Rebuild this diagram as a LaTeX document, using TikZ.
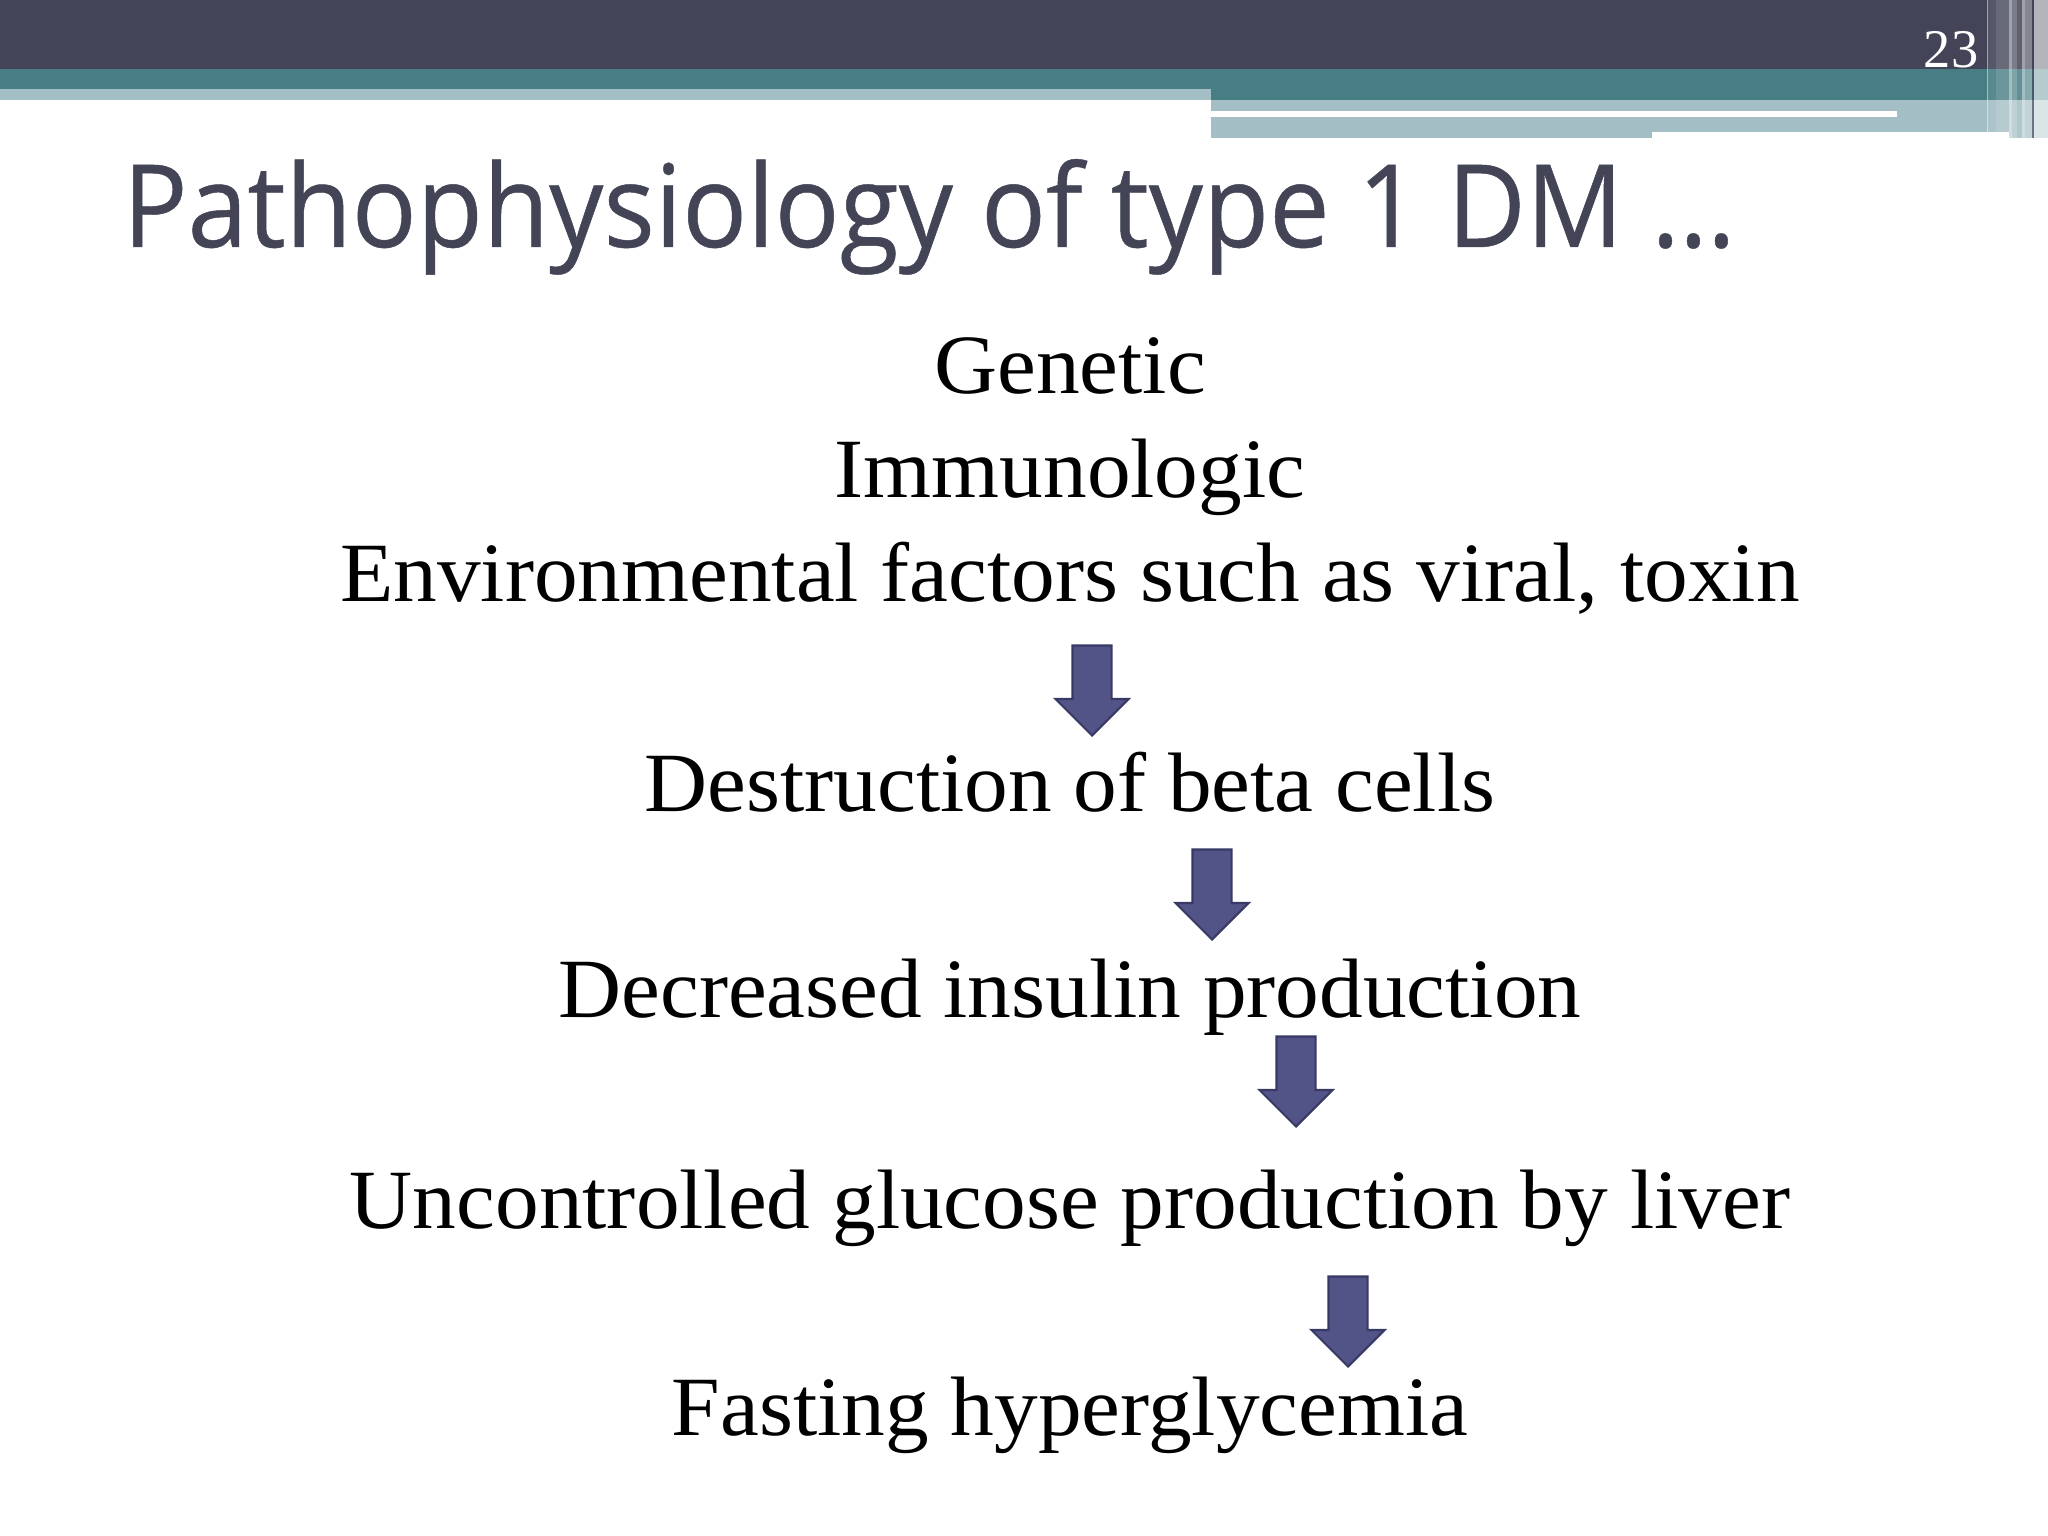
\documentclass[tikz,border=0pt]{standalone}
\usepackage{fontspec}
\setmainfont{Liberation Serif}
\newfontfamily\titlefont[FakeStretch=0.938,FakeBold=0.4]{Open Sans}
\newfontfamily\bodyfont[FakeStretch=1.035]{Liberation Serif}
\usetikzlibrary{shapes.arrows}
\definecolor{barslate}{RGB}{67,68,88}
\definecolor{barteal}{RGB}{70,126,132}
\definecolor{barpale}{RGB}{163,190,196}
\definecolor{titleslate}{RGB}{67,68,86}
\definecolor{arrowfill}{RGB}{82,83,134}
\definecolor{arrowline}{RGB}{56,57,100}

\begin{document}
\begin{tikzpicture}[
  flow/.style={anchor=base, inner sep=0pt, font=\bodyfont\fontsize{24}{28}\selectfont},
  downarrow/.style={single arrow, rotate=-90, anchor=tip, draw=arrowline, fill=arrowfill,
    line width=0.6pt, inner xsep=0pt, inner ysep=0.185cm, minimum height=0.9cm,
    single arrow head extend=0.17cm, single arrow head indent=0pt}
]
\useasboundingbox (0,0) rectangle (20.48,-15.36);
\fill[white] (0,0) rectangle (20.48,-15.36);
% header bands
\fill[barslate] (0,0) rectangle (20.48,-0.69);
\fill[barteal] (0,-0.69) rectangle (20.48,-0.89);
\fill[barpale] (0,-0.89) rectangle (12.11,-1.00);
\fill[barteal] (12.11,-0.89) rectangle (20.48,-1.00);
\fill[barpale] (12.11,-1.00) rectangle (20.48,-1.38);
\fill[white] (12.11,-1.11) rectangle (18.97,-1.17);
\fill[white] (16.52,-1.32) rectangle (20.09,-1.38);
% stripes at the right end
\foreach \xa/\xb/\col/\op/\yb in {19.87/19.88/white/0.5/1.32, 19.88/19.96/white/0.1/1.32,
    19.96/20.09/white/0.2/1.32, 20.09/20.12/white/0.5/1.38, 20.12/20.17/white/0.3/1.38,
    20.17/20.22/white/0.15/1.38, 20.22/20.25/white/0.5/1.38, 20.25/20.32/white/0.35/1.38,
    20.32/20.34/barslate/0.6/1.38, 20.34/20.48/white/0.6/1.38}
  \fill[\col, opacity=\op] (\xa,0) rectangle (\xb,-\yb);
\node[anchor=base east, inner sep=0pt, text=white, font=\fontsize{15.5}{16}\selectfont] (pagenum) at (19.79,-0.68) {23};
% title
\node[anchor=base west, inner sep=0pt, text=titleslate, font=\titlefont\fontsize{32.7}{36}\selectfont] (title) at (1.22,-2.47) {Pathophysiology of type 1 DM …};
% causes
\node[flow] (genetic) at (10.70,-3.94) {Genetic};
\node[flow] (immuno) at (10.70,-4.97) {Immunologic};
\node[flow] (environ) at (10.70,-6.02) {Environmental factors such as viral, toxin};
% chain
\node[flow] (destruct) at (10.70,-8.11) {Destruction of beta cells};
\node[flow] (insulin) at (10.70,-10.18) {Decreased insulin production};
\node[flow] (glucose) at (10.70,-12.28) {Uncontrolled glucose production by liver};
\node[flow] (fasting) at (10.70,-14.35) {Fasting hyperglycemia};
\node[downarrow] (arr1) at (10.92,-7.37) {};
\node[downarrow] (arr2) at (12.12,-9.41) {};
\node[downarrow] (arr3) at (12.96,-11.28) {};
\node[downarrow] (arr4) at (13.48,-13.68) {};
\end{tikzpicture}
\end{document}
